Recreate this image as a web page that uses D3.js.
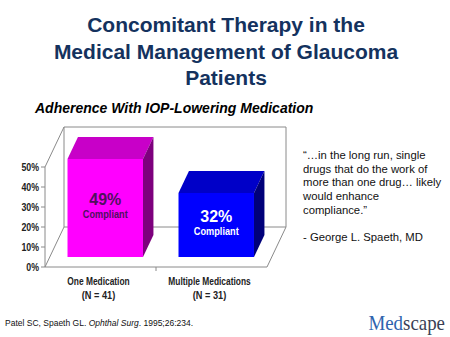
<!DOCTYPE html>
<html><head><meta charset="utf-8">
<script src="https://cdn.jsdelivr.net/npm/d3@7"></script>
<style>html,body{margin:0;padding:0;background:#fff;}svg{display:block;}</style>
</head><body>
<script>
const titleLines = ["Concomitant Therapy in the", "Medical Management of Glaucoma", "Patients"];
const subtitle = "Adherence With IOP-Lowering Medication";
const categories = ["One Medication", "Multiple Medications"];
const nLabels = ["(N = 41)", "(N = 31)"];
const values = [49, 32];
const valueLabels = ["49%", "32%"];
const yTicks = [0, 10, 20, 30, 40, 50];
const quoteLines = ["\u201c\u2026in the long run, single", "drugs that do the work of", "more than one drug\u2026 likely", "would enhance", "compliance.\u201d"];
const quoteAuthor = "- George L. Spaeth, MD";

const W = 450, H = 337;
const svg = d3.select("body").append("svg").attr("width", W).attr("height", H);
const SANS = "Liberation Sans, Arial, sans-serif";

// Title
svg.append("g").selectAll("text").data(titleLines).join("text")
  .attr("x", 226).attr("y", (d, i) => 32 + i * 26.5)
  .attr("text-anchor", "middle")
  .attr("font-family", SANS)
  .attr("font-weight", "bold").attr("font-size", 21).attr("fill", "#14325e")
  .text(d => d);

svg.append("text").attr("x", 35).attr("y", 113)
  .attr("font-family", SANS)
  .attr("font-weight", "bold").attr("font-style", "italic").attr("font-size", 14)
  .attr("fill", "#000").text(subtitle);

// 3D chart
const x0 = 45, x1 = 267;
const DX = 19, DY = -40; // depth vector
const F0 = 0.25, F1 = 0.8;
const y = d3.scaleLinear().domain([0, 50]).range([267, 167]);
const x = d3.scaleBand().domain(categories).range([x0, x1]).paddingInner(0.32).paddingOuter(0.16);
const P = (px, v, f) => [px + f * DX, y(v) + f * DY];
const line = d3.line();
const frame = svg.append("g").attr("fill", "none").attr("stroke", "#8a8a8a").attr("stroke-width", 1);
const ymax = d3.max(yTicks);
frame.append("path").attr("d", line([P(x0, 0, 1), P(x0, ymax, 1), P(x1, ymax, 1), P(x1, 0, 1), P(x0, 0, 1)]));
frame.append("path").attr("d", line([P(x0, 0, 0), P(x0, ymax, 0), P(x0, ymax, 1)]));
frame.append("path").attr("d", line([P(x0, 0, 0), P(x0, 0, 1)]));
frame.append("path").attr("d", line([P(x0, 0, 0), P(x1, 0, 0), P(x1, 0, 1)]));
frame.append("path").attr("d", line([P((x0 + x1) / 2, 0, 0), [(x0 + x1) / 2, y(0) + 4]]));

// narrow text helper
function narrow(parent, tx, ty, str, size, anchor, fill, sx) {
  const g = parent.append("g").attr("transform", `translate(${tx},${ty}) scale(${sx || 0.8},1)`);
  g.append("text").attr("x", 0).attr("y", 0).attr("text-anchor", anchor)
    .attr("font-family", SANS).attr("font-weight", "bold").attr("font-size", size)
    .attr("fill", fill).text(str);
}

// y ticks
const yAxis = svg.append("g");
yAxis.selectAll("line").data(yTicks).join("line")
  .attr("x1", x0 - 4).attr("x2", x0).attr("y1", d => y(d)).attr("y2", d => y(d))
  .attr("stroke", "#8a8a8a");
yTicks.forEach(t => narrow(yAxis, x0 - 6, y(t) + 4, t + "%", 11, "end", "#222"));

// bars
const colors = [
  {front: "#ff00ff", top: "#c800c8", side: "#7d007d", txt: "#50105e"},
  {front: "#0000ff", top: "#0000c8", side: "#00007a", txt: "#ffffff"}
];
const bars = svg.append("g");
categories.forEach((c, i) => {
  const xa = x(c), xb = x(c) + x.bandwidth(), v = values[i], col = colors[i];
  const poly = pts => "M" + pts.map(p => p.join(",")).join("L") + "Z";
  bars.append("path").attr("d", poly([P(xa, v, F0), P(xb, v, F0), P(xb, v, F1), P(xa, v, F1)])).attr("fill", col.top);
  bars.append("path").attr("d", poly([P(xb, 0, F0), P(xb, v, F0), P(xb, v, F1), P(xb, 0, F1)])).attr("fill", col.side);
  bars.append("path").attr("d", poly([P(xa, 0, F0), P(xb, 0, F0), P(xb, v, F0), P(xa, v, F0)])).attr("fill", col.front);
  const cx = (xa + xb) / 2 + F0 * DX;
  const mid = (P(xa, 0, F0)[1] + P(xa, v, F0)[1]) / 2;
  bars.append("text").attr("x", cx).attr("y", mid - 3).attr("text-anchor", "middle")
    .attr("font-family", SANS).attr("font-weight", "bold")
    .attr("font-size", 16).attr("fill", col.txt).text(valueLabels[i]);
  narrow(bars, cx, mid + 10, "Compliant", 11.5, "middle", col.txt);
  const lx = (xa + xb) / 2 - 2;
  narrow(svg, lx, 285, c, 11.5, "middle", "#222", 0.73);
  narrow(svg, lx, 299, nLabels[i], 11.5, "middle", "#222", 0.8);
});

// quote
const q = svg.append("g").attr("font-family", SANS).attr("font-size", 11.3).attr("fill", "#111");
q.selectAll("text.q").data(quoteLines).join("text").attr("class", "q")
  .attr("x", 303).attr("y", (d, i) => 159 + i * 13.7).text(d => d);
q.append("text").attr("x", 303).attr("y", 241).text(quoteAuthor);

// footer
const f = svg.append("text").attr("x", 5).attr("y", 326)
  .attr("font-family", SANS).attr("font-size", 8.5).attr("fill", "#111");
f.append("tspan").text("Patel SC, Spaeth GL. ");
f.append("tspan").attr("font-style", "italic").text("Ophthal Surg");
f.append("tspan").text(". 1995;26:234.");

const logo = svg.append("g").attr("transform", "translate(445,330) scale(0.9,1)")
  .append("text").attr("x", 0).attr("y", 0).attr("text-anchor", "end")
  .attr("font-family", "Liberation Serif, Times New Roman, serif").attr("font-size", 21);
logo.append("tspan").attr("fill", "#2f63ae").text("Med");
logo.append("tspan").attr("fill", "#3a3f55").text("scape");
</script>
</body></html>
